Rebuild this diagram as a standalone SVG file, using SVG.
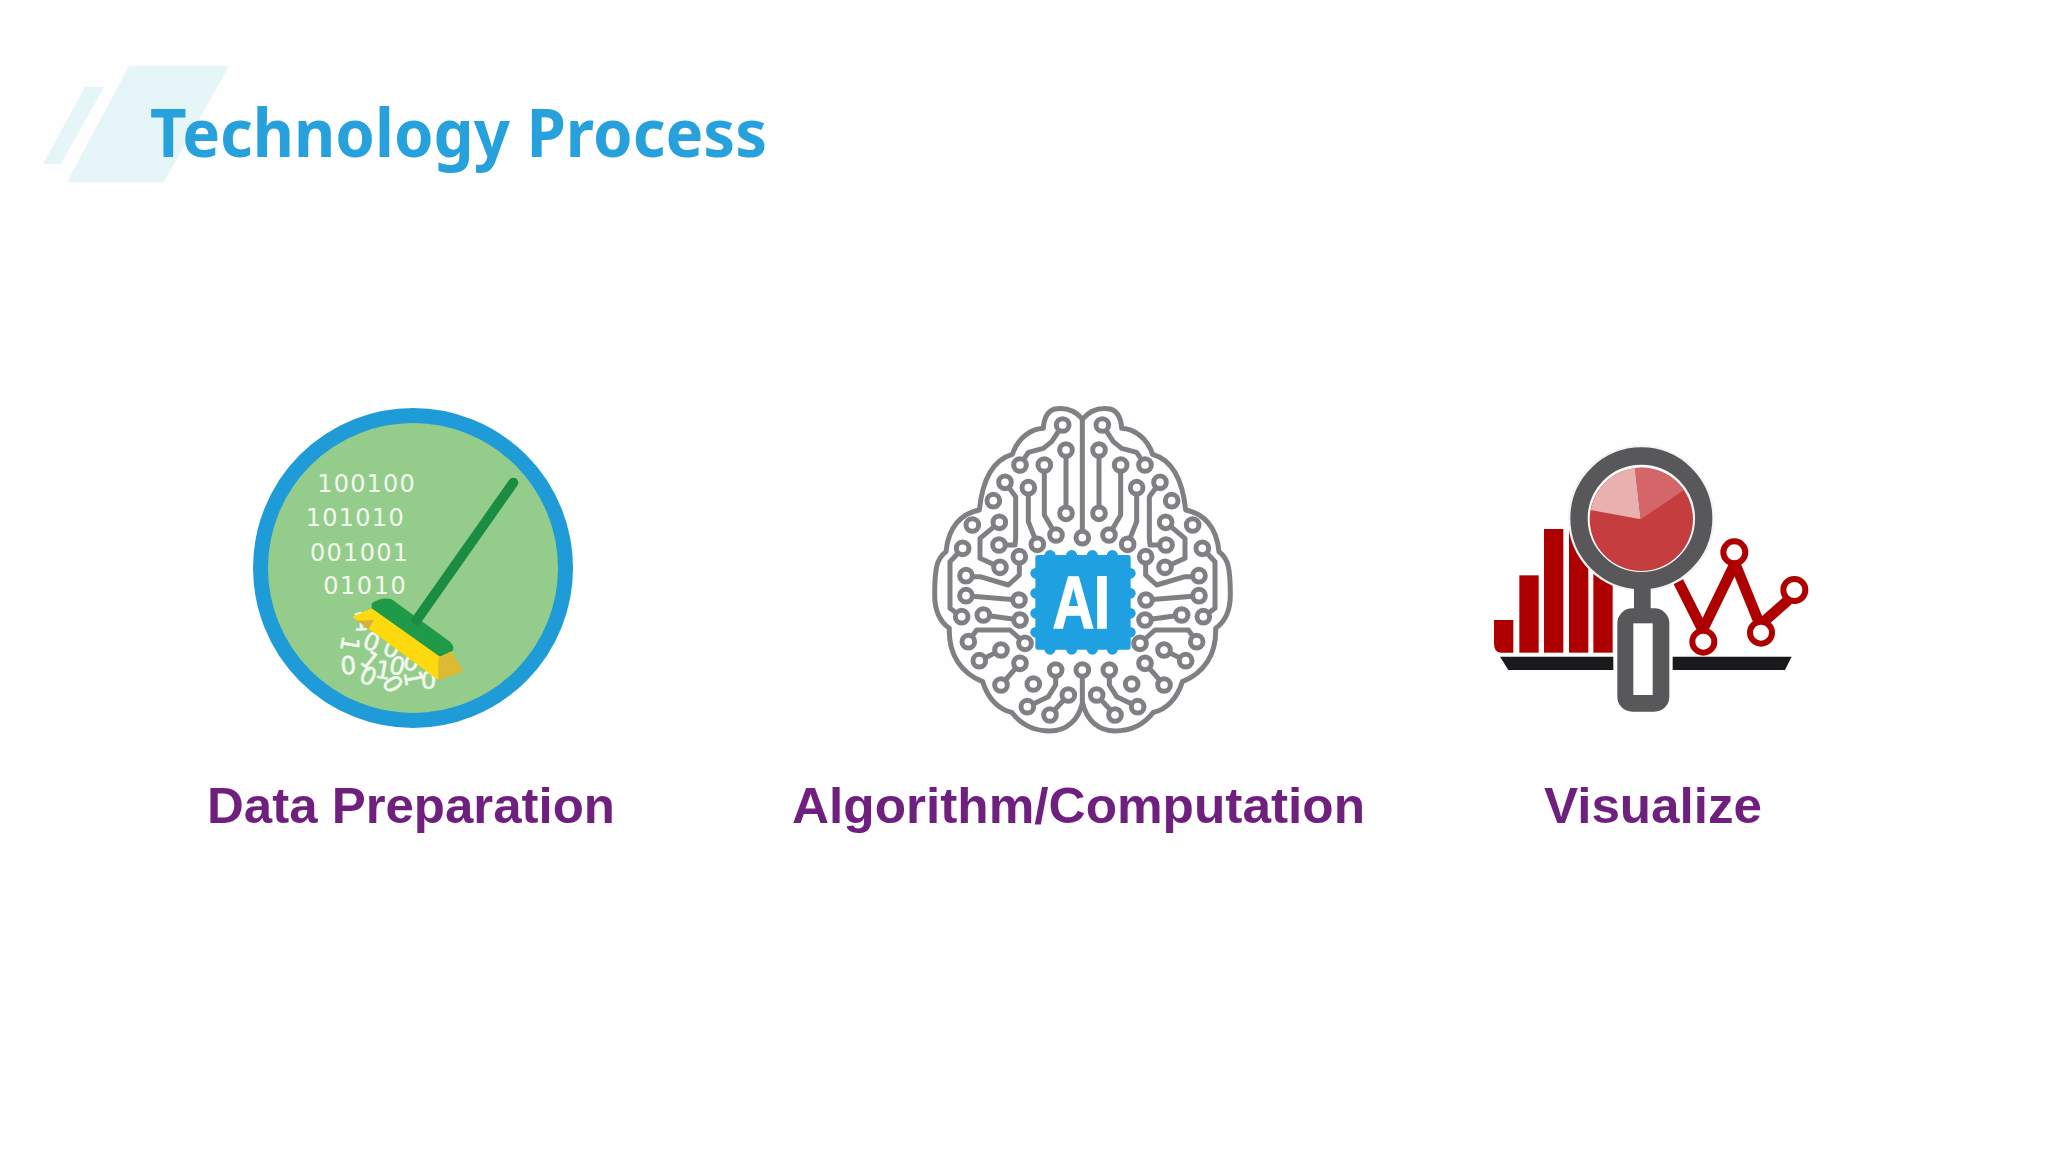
<svg xmlns="http://www.w3.org/2000/svg" xmlns:xlink="http://www.w3.org/1999/xlink" width="2048" height="1152" viewBox="0 0 2048 1152">
<style>
.lbl{font-family:"Liberation Sans",Arial,sans-serif;font-weight:700;font-size:50.6px;fill:#6f1f7d}
.ttl{font-family:"Noto Sans","Open Sans",sans-serif;font-weight:700;font-size:67px;fill:#27a1dc}
.bin{font-family:"DejaVu Sans",sans-serif;font-size:72px;fill:#f2f8ee}
.sc{font-family:"DejaVu Sans",sans-serif;font-size:74px;fill:#f4f9f0;text-anchor:middle;stroke:#f4f9f0;stroke-width:1.5}
.w{fill:none;stroke:#808084;stroke-width:15;stroke-linejoin:round;stroke-linecap:round}
.n{fill:#fff;stroke:#808084;stroke-width:15}
.bar{fill:#ae0000}
.rg{fill:#fff;stroke:#ae0000;stroke-width:18}
</style>
<defs>
<g id="half">
<path class="w" d="M487 72C462 42 430 38 405 42C380 48 372 70 370 100C335 102 295 125 277 178C235 190 190 230 178 345C125 355 85 395 78 470C50 490 44 520 44 600C44 650 60 680 88 700C85 780 125 835 188 860C205 915 240 945 275 952C300 985 340 1008 390 1008C440 1008 475 975 487 925"/>
<g class="w">
<path d="M428 90L395 140L370 160L325 172L300 210"/>
<path d="M438 165V355"/>
<path d="M373 210V360L408 420"/>
<path d="M325 278V380L352 448"/>
<path d="M255 262L287 305V430L285 450H237"/>
<path d="M238 382L180 430V490L240 517"/>
<path d="M298 485V540L265 570L180 545H138"/>
<path d="M138 602L297 615"/>
<path d="M190 660L300 675"/>
<path d="M128 460L90 500V640L125 665"/>
<path d="M145 740L170 705H270L315 745"/>
<path d="M178 797L243 765"/>
<path d="M243 870L300 805"/>
<path d="M407 825V870L385 905L322 935"/>
<path d="M390 960L445 900"/>
</g>
<g class="n">
<circle cx="428" cy="90" r="19"/><circle cx="438" cy="165" r="19"/><circle cx="438" cy="355" r="19"/>
<circle cx="300" cy="210" r="19"/><circle cx="373" cy="210" r="19"/><circle cx="408" cy="420" r="19"/>
<circle cx="325" cy="278" r="19"/><circle cx="352" cy="448" r="19"/><circle cx="255" cy="262" r="19"/>
<circle cx="220" cy="317" r="19"/><circle cx="157" cy="390" r="19"/><circle cx="238" cy="382" r="19"/>
<circle cx="237" cy="450" r="19"/><circle cx="240" cy="517" r="19"/><circle cx="298" cy="485" r="19"/>
<circle cx="128" cy="460" r="19"/><circle cx="138" cy="542" r="19"/><circle cx="138" cy="602" r="19"/>
<circle cx="297" cy="615" r="19"/><circle cx="125" cy="665" r="19"/><circle cx="190" cy="660" r="19"/>
<circle cx="300" cy="675" r="19"/><circle cx="145" cy="740" r="19"/><circle cx="315" cy="745" r="19"/>
<circle cx="178" cy="797" r="19"/><circle cx="243" cy="765" r="19"/><circle cx="300" cy="805" r="19"/>
<circle cx="243" cy="870" r="19"/><circle cx="340" cy="867" r="19"/><circle cx="407" cy="825" r="19"/>
<circle cx="322" cy="935" r="19"/><circle cx="445" cy="900" r="19"/><circle cx="390" cy="960" r="19"/>
</g>
</g>
</defs>
<rect width="2048" height="1152" fill="#fefefe"/>
<g id="title">
<polygon points="129,66 229,66 164,182 67,182" fill="#e6f5f8"/>
<polygon points="85,87 104,87 61,164 43,164" fill="#e6f5f8"/>
<text class="ttl" x="150" y="157" textLength="617" lengthAdjust="spacingAndGlyphs">Technology Process</text>
</g>
<g id="node-data-preparation">
<circle cx="413" cy="568" r="152.500" fill="#94cc8b" stroke="#1f9bd7" stroke-width="15"/>
<g transform="translate(240 390) scale(.33333)">
<text class="bin" x="232" y="305" textLength="292">100100</text>
<text class="bin" x="197" y="408" textLength="294">101010</text>
<text class="bin" x="210" y="512" textLength="294">001001</text>
<text class="bin" x="250" y="612" textLength="247">01010</text>
<g class="sc">
<text transform="translate(362 695) rotate(-3)" y="26">1</text>
<text transform="translate(330 762) rotate(100)" y="26">1</text>
<text transform="translate(395 755) rotate(20)" y="26">0</text>
<text transform="translate(455 775) rotate(25)" y="26">0</text>
<text transform="translate(515 815) rotate(20)" y="26">0</text>
<text transform="translate(325 826) rotate(-5)" y="26">0</text>
<text transform="translate(390 812) rotate(40)" y="26">1</text>
<text transform="translate(385 858) rotate(25)" y="26">0</text>
<text transform="translate(430 840) rotate(10)" y="26">1</text>
<text transform="translate(472 828) rotate(15)" y="26">0</text>
<text transform="translate(458 882) rotate(60)" y="26">0</text>
<text transform="translate(520 865) rotate(80)" y="26">1</text>
<text transform="translate(566 870) rotate(0)" y="26">0</text>
</g>
<polygon points="337,680 395,655 640,790 595,870" fill="#fdd90d"/>
<polygon points="352,692 402,690 385,718" fill="#d8b13a"/>
<polygon points="595,805 635,785 670,845 595,870" fill="#dcbb32"/>
<path d="M395 640Q425 620 455 628L630 755Q645 770 638 782L600 800L395 655Z" fill="#1f9a48"/>
<line x1="820" y1="278" x2="530" y2="690" stroke="#1b8d42" stroke-width="30" stroke-linecap="round"/>
</g>
<text class="lbl" x="207" y="823" textLength="408" lengthAdjust="spacingAndGlyphs">Data Preparation</text>
</g>
<g id="node-algorithm">
<g transform="translate(920 395) scale(.33333)">
<use href="#half" xlink:href="#half"/>
<use href="#half" xlink:href="#half" transform="translate(975 0) scale(-1 1)"/>
<path class="w" d="M487 72V428M487 825V925"/>
<circle class="n" cx="487" cy="428" r="19"/>
<circle class="n" cx="487" cy="825" r="19"/>
<g fill="#1fa0e0">
<rect x="346" y="480" width="286" height="284" rx="8"/>
<circle cx="390" cy="482" r="17"/><circle cx="455" cy="482" r="17"/><circle cx="517" cy="482" r="17"/><circle cx="577" cy="482" r="17"/>
<circle cx="390" cy="762" r="17"/><circle cx="455" cy="762" r="17"/><circle cx="517" cy="762" r="17"/><circle cx="577" cy="762" r="17"/>
<circle cx="347" cy="535" r="16"/><circle cx="347" cy="595" r="16"/><circle cx="347" cy="655" r="16"/><circle cx="347" cy="712" r="16"/>
<circle cx="631" cy="535" r="16"/><circle cx="631" cy="595" r="16"/><circle cx="631" cy="655" r="16"/><circle cx="631" cy="712" r="16"/>
</g>
<text x="398" y="700" font-family="Liberation Sans, Arial, sans-serif" font-weight="700" font-size="222" fill="#fff" stroke="#fff" stroke-width="5" textLength="172" lengthAdjust="spacingAndGlyphs">AI</text>
</g>
<text class="lbl" x="792" y="823" textLength="573" lengthAdjust="spacingAndGlyphs">Algorithm/Computation</text>
</g>
<g id="node-visualize">
<g transform="translate(1480 430) scale(.33333)">
<path class="bar" d="M42 570H100V668H62Q42 668 42 640Z"/>
<rect class="bar" x="118" y="436" width="58" height="232"/>
<rect class="bar" x="192" y="297" width="58" height="371"/>
<rect class="bar" x="267" y="300" width="58" height="368"/>
<rect class="bar" x="340" y="400" width="58" height="268"/>
<polygon points="60,680 935,680 915,720 85,720" fill="#1a1a1c"/>
<polyline points="595,455 668,600 765,400 840,585 925,510" fill="none" stroke="#ae0000" stroke-width="32"/>
<circle class="rg" cx="670" cy="635" r="33"/>
<circle class="rg" cx="763" cy="367" r="33"/>
<circle class="rg" cx="843" cy="608" r="33"/>
<circle class="rg" cx="943" cy="480" r="33"/>
<rect x="400" y="470" width="178" height="385" fill="#fff"/>
<circle cx="484" cy="265" r="220" fill="#f4f4f4"/>
<rect x="462" y="465" width="50" height="80" fill="#58585a"/>
<rect x="412" y="535" width="156" height="310" rx="45" fill="#58585a"/>
<rect x="460" y="580" width="58" height="215" fill="#fff"/>
<circle cx="484" cy="265" r="187" fill="#fff" stroke="#58585a" stroke-width="52"/>
<circle cx="484" cy="268" r="155" fill="#c53d3e"/>
<path d="M482 268L332 240A155 155 0 0 1 465 114Z" fill="#e9b0b0"/>
<path d="M482 268L465 114A155 155 0 0 1 612 180Z" fill="#d4666a"/>
</g>
<text class="lbl" x="1544" y="823" textLength="218" lengthAdjust="spacingAndGlyphs">Visualize</text>
</g>
</svg>
